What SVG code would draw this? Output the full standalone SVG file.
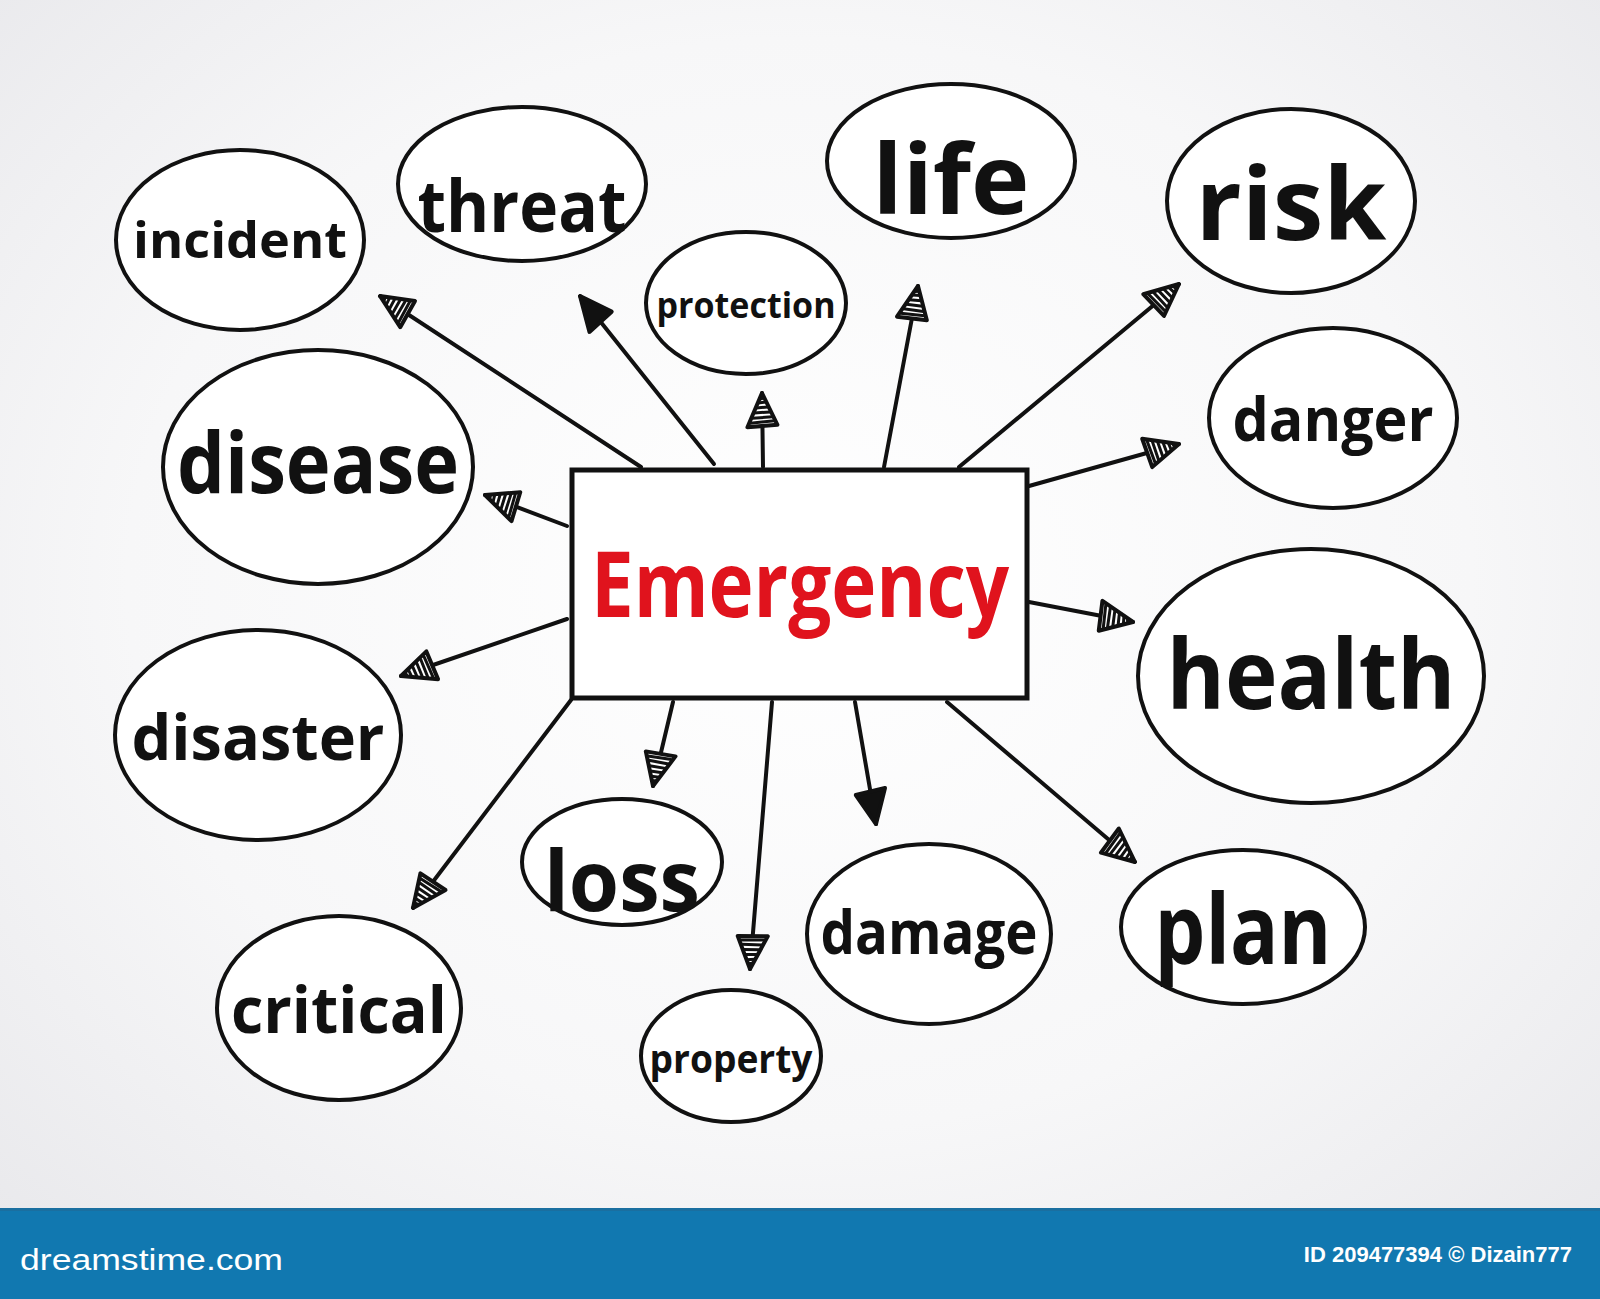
<svg xmlns="http://www.w3.org/2000/svg" width="1600" height="1299" viewBox="0 0 1600 1299">
<defs>
<radialGradient id="bg" cx="50%" cy="45%" r="70%">
<stop offset="0" stop-color="#ffffff"/>
<stop offset="0.6" stop-color="#f7f7f8"/>
<stop offset="1" stop-color="#e9e9ec"/>
</radialGradient>
<marker id="ah" viewBox="0 0 40 36" refX="38" refY="18" markerWidth="40" markerHeight="36" markerUnits="userSpaceOnUse" orient="auto">
<path d="M38,18 L4,3 L6,33 Z" fill="#fff" stroke="#111" stroke-width="4" stroke-linejoin="round"/>
<path d="M8,6 L10,30 M13,8 L14,28 M18,10 L19,26 M23,12 L24,24 M28,14 L29,22 M32,16 L33,20" stroke="#111" stroke-width="3"/>
</marker>
<marker id="ahs" viewBox="0 0 40 36" refX="38" refY="18" markerWidth="40" markerHeight="36" markerUnits="userSpaceOnUse" orient="auto">
<path d="M38,18 L4,3 L6,33 Z" fill="#111" stroke="#111" stroke-width="4" stroke-linejoin="round"/>
</marker>
</defs>
<style>
.n ellipse{fill:#fff;stroke:#111;stroke-width:4}
.n text{font-family:"Open Sans","DejaVu Sans",sans-serif;font-weight:700;fill:#111;text-anchor:middle}
.c line{stroke:#111;stroke-width:4;stroke-linecap:round;marker-end:url(#ah)}
.c line.s{marker-end:url(#ahs)}
.ban{font-family:"Liberation Sans",Arial,sans-serif;fill:#fff}
</style>
<rect width="1600" height="1299" fill="url(#bg)"/>

<g class="c" id="connectors">
<line x1="641" y1="467" x2="380" y2="296"/>
<line class="s" x1="714" y1="464" x2="580" y2="296"/>
<line x1="763" y1="467" x2="762" y2="393"/>
<line x1="884" y1="467" x2="918" y2="286"/>
<line x1="959" y1="467" x2="1179" y2="284"/>
<line x1="1029" y1="486" x2="1179" y2="444"/>
<line x1="1029" y1="602" x2="1133" y2="622"/>
<line x1="947" y1="702" x2="1135" y2="862"/>
<line class="s" x1="855" y1="702" x2="876" y2="824"/>
<line x1="772" y1="702" x2="750" y2="969"/>
<line x1="673" y1="702" x2="653" y2="786"/>
<line x1="571" y1="700" x2="413" y2="908"/>
<line x1="567" y1="619" x2="401" y2="676"/>
<line x1="567" y1="526" x2="485" y2="495"/>
</g>

<g id="center">
<rect x="572" y="470" width="455" height="228" fill="#fff" stroke="#111" stroke-width="5"/>
<text x="800" y="617" font-family="Open Sans,DejaVu Sans,sans-serif" font-weight="700" font-size="92" fill="#e0131d" text-anchor="middle" textLength="418" lengthAdjust="spacingAndGlyphs">Emergency</text>
</g>

<g class="n" id="n-incident"><ellipse cx="240" cy="240" rx="124" ry="90"/><text x="240" y="258" font-size="50" textLength="214" lengthAdjust="spacingAndGlyphs">incident</text></g>
<g class="n" id="n-threat"><ellipse cx="522" cy="184" rx="124" ry="77"/><text x="522" y="232" font-size="72" textLength="209" lengthAdjust="spacingAndGlyphs">threat</text></g>
<g class="n" id="n-protection"><ellipse cx="746" cy="303" rx="100" ry="71"/><text x="746" y="318" font-size="36" textLength="179" lengthAdjust="spacingAndGlyphs">protection</text></g>
<g class="n" id="n-life"><ellipse cx="951" cy="161" rx="124" ry="77"/><text x="951" y="214" font-size="96" textLength="157" lengthAdjust="spacingAndGlyphs">life</text></g>
<g class="n" id="n-risk"><ellipse cx="1291" cy="201" rx="124" ry="92"/><text x="1291" y="240" font-size="100" textLength="191" lengthAdjust="spacingAndGlyphs">risk</text></g>
<g class="n" id="n-danger"><ellipse cx="1333" cy="418" rx="124" ry="90"/><text x="1333" y="441" font-size="60" textLength="201" lengthAdjust="spacingAndGlyphs">danger</text></g>
<g class="n" id="n-health"><ellipse cx="1311" cy="676" rx="173" ry="127"/><text x="1311" y="709" font-size="96" textLength="289" lengthAdjust="spacingAndGlyphs">health</text></g>
<g class="n" id="n-plan"><ellipse cx="1243" cy="927" rx="122" ry="77"/><text x="1243" y="964" font-size="96" textLength="177" lengthAdjust="spacingAndGlyphs">plan</text></g>
<g class="n" id="n-damage"><ellipse cx="929" cy="934" rx="122" ry="90"/><text x="929" y="954" font-size="60" textLength="217" lengthAdjust="spacingAndGlyphs">damage</text></g>
<g class="n" id="n-property"><ellipse cx="731" cy="1056" rx="90" ry="66"/><text x="731" y="1073" font-size="40" textLength="163" lengthAdjust="spacingAndGlyphs">property</text></g>
<g class="n" id="n-loss"><ellipse cx="622" cy="862" rx="100" ry="63"/><text x="622" y="911" font-size="84" textLength="156" lengthAdjust="spacingAndGlyphs">loss</text></g>
<g class="n" id="n-critical"><ellipse cx="339" cy="1008" rx="122" ry="92"/><text x="339" y="1033" font-size="64" textLength="216" lengthAdjust="spacingAndGlyphs">critical</text></g>
<g class="n" id="n-disaster"><ellipse cx="258" cy="735" rx="143" ry="105"/><text x="258" y="760" font-size="62" textLength="253" lengthAdjust="spacingAndGlyphs">disaster</text></g>
<g class="n" id="n-disease"><ellipse cx="318" cy="467" rx="155" ry="117"/><text x="318" y="493" font-size="84" textLength="282" lengthAdjust="spacingAndGlyphs">disease</text></g>

<g id="banner">
<rect x="0" y="1208" width="1600" height="91" fill="#1178b0"/>
<rect x="0" y="1208" width="1600" height="3" fill="#1a6fa0"/>
<text class="ban" x="20" y="1270" font-size="30" textLength="263" lengthAdjust="spacingAndGlyphs">dreamstime.com</text>
<text class="ban" x="1572" y="1262" font-size="22" font-weight="700" text-anchor="end">ID 209477394 © Dizain777</text>
</g>
</svg>
